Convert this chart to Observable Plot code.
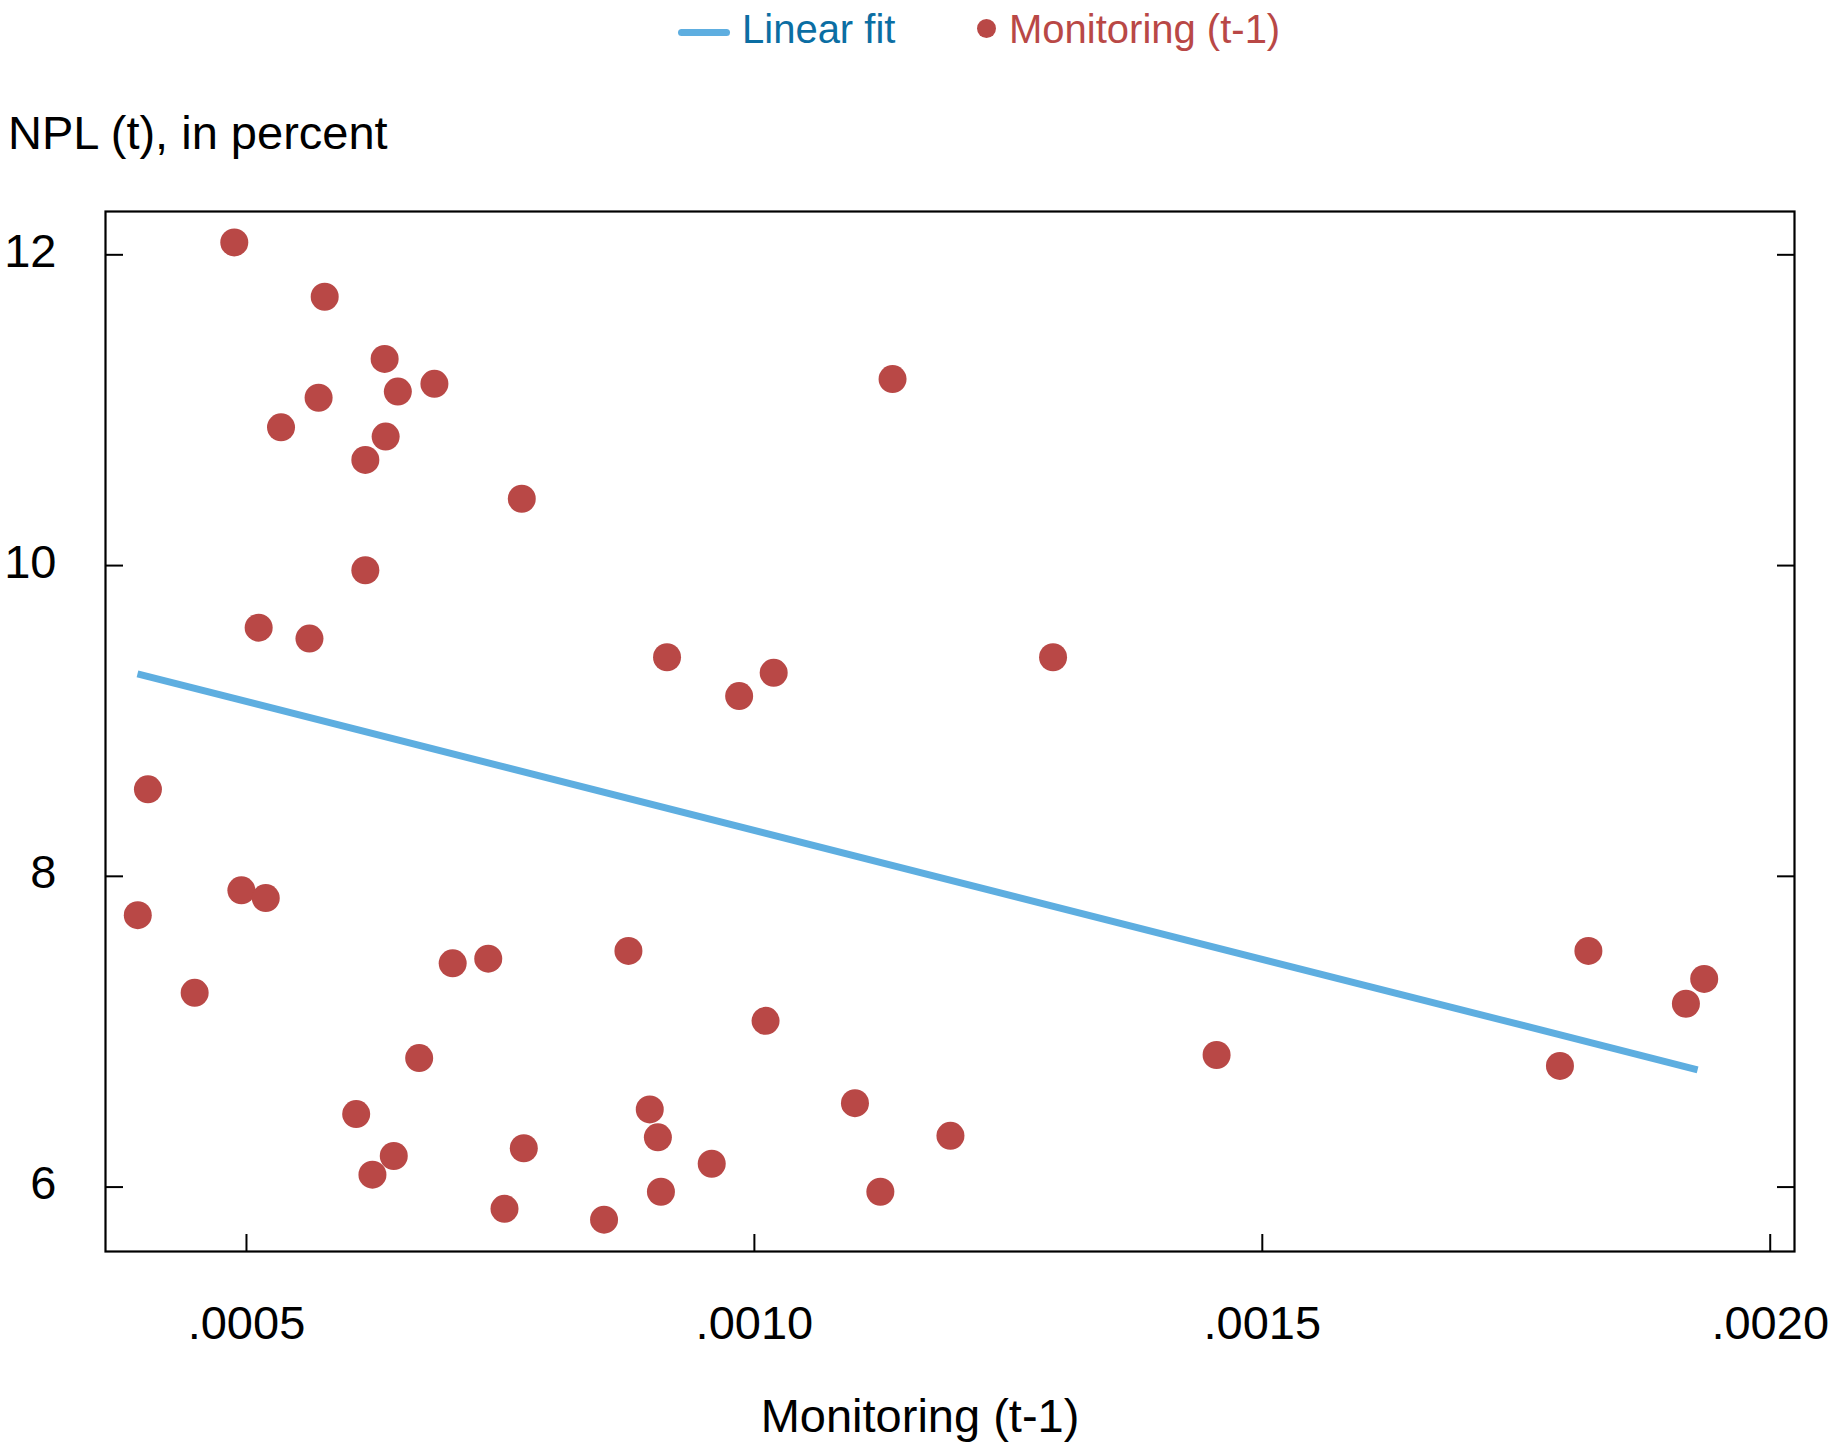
<!DOCTYPE html>
<html>
<head>
<meta charset="utf-8">
<script src="https://cdn.jsdelivr.net/npm/d3@7"></script>
<script src="https://cdn.jsdelivr.net/npm/@observablehq/plot@0.6"></script>
<style>
  html, body { margin: 0; padding: 0; background: #fff; }
  #wrap { position: relative; width: 1840px; height: 1456px; font-family: "Liberation Sans", Arial, sans-serif; }
  #wrap svg { position: absolute; left: 0; top: 0; }
  .t { position: absolute; line-height: 1; white-space: nowrap; }
</style>
</head>
<body>
<div id="wrap">
  <div class="t" style="left:8px; top:109px; font-size:47px; color:#000;">NPL (t), in percent</div>
  <div class="t" style="left:0; width:1840px; text-align:center; top:1392px; font-size:47px; color:#000;">Monitoring (t-1)</div>
  <div style="position:absolute; left:678px; top:28.5px; width:52px; height:7px; border-radius:4px; background:#5EAEE0;"></div>
  <div class="t" style="left:742px; top:9px; font-size:40px; color:#0B6EA3;">Linear fit</div>
  <div style="position:absolute; left:976.5px; top:18.5px; width:19px; height:19px; border-radius:50%; background:#B94846;"></div>
  <div class="t" style="left:1009px; top:9px; font-size:40px; color:#B94846;">Monitoring (t-1)</div>
</div>
<script>
// Monitoring (t-1) values and NPL (t) values
const monitoring = [
  0.000488, 0.000577, 0.000636, 0.000649, 0.000685, 0.000571, 0.000534, 0.000637, 0.000617, 0.000771,
  0.000617, 0.000512, 0.000562, 0.001136, 0.000914, 0.001019, 0.000985, 0.001294, 0.000403, 0.000393,
  0.000495, 0.000519, 0.000449, 0.000703, 0.000738, 0.000876, 0.000670, 0.001011, 0.000608, 0.000645,
  0.000624, 0.000773, 0.000754, 0.000852, 0.000897, 0.000905, 0.000908, 0.000958, 0.001099, 0.001124,
  0.001193, 0.001455, 0.001793, 0.001821, 0.001917, 0.001935
];
const npl = [
  12.08, 11.73, 11.33, 11.12, 11.17, 11.08, 10.89, 10.83, 10.68, 10.43,
  9.97, 9.60, 9.53, 11.20, 9.41, 9.31, 9.16, 9.41, 8.56, 7.75,
  7.91, 7.86, 7.25, 7.44, 7.47, 7.52, 6.83, 7.07, 6.47, 6.20,
  6.08, 6.25, 5.86, 5.79, 6.50, 6.32, 5.97, 6.15, 6.54, 5.97,
  6.33, 6.85, 6.78, 7.52, 7.18, 7.34
];
// Linear fit endpoints
const fitX = [0.0003927, 0.0019285];
const fitY = [9.303, 6.755];
// Axis ticks
const xTicks = [0.0005, 0.0010, 0.0015, 0.0020];
const yTicks = [6, 8, 10, 12];

const points = monitoring.map((m, i) => ({x: m, y: npl[i]}));
const fit = fitX.map((v, i) => ({x: v, y: fitY[i]}));
const xFmt = d => d3.format(".4f")(d).replace(/^0/, "");
const yFmt = d => String(d);

const chart = Plot.plot({
  width: 1840,
  height: 1456,
  marginLeft: 105,
  marginRight: 46,
  marginTop: 211,
  marginBottom: 205,
  style: {fontFamily: "'Liberation Sans', Arial, sans-serif", fontSize: "47px", color: "#000", background: "transparent"},
  x: {domain: [0.00036122, 0.0020239], label: null},
  y: {domain: [5.5854, 12.2788], label: null},
  marks: [
    Plot.frame({stroke: "#000", strokeWidth: 2.2}),
    Plot.axisY(yTicks, {anchor: "left", tickSize: -18, strokeWidth: 2, text: null, label: null}),
    Plot.axisY(yTicks, {anchor: "right", tickSize: -18, strokeWidth: 2, text: null, label: null}),
    Plot.axisY(yTicks, {anchor: "left", tickSize: 0, tickPadding: 49, fontSize: 47, dy: -3, tickFormat: yFmt, label: null}),
    Plot.axisX(xTicks, {anchor: "bottom", tickSize: -17, strokeWidth: 2, text: null, label: null}),
    Plot.axisX(xTicks, {anchor: "bottom", tickSize: 0, tickPadding: 54, fontSize: 47, tickFormat: xFmt, label: null}),
    Plot.dot(points, {x: "x", y: "y", r: 14, fill: "#B94846", stroke: null}),
    Plot.line(fit, {x: "x", y: "y", stroke: "#5EAEE0", strokeWidth: 7, strokeLinecap: "butt"})
  ]
});
document.getElementById("wrap").prepend(chart);
</script>
</body>
</html>
